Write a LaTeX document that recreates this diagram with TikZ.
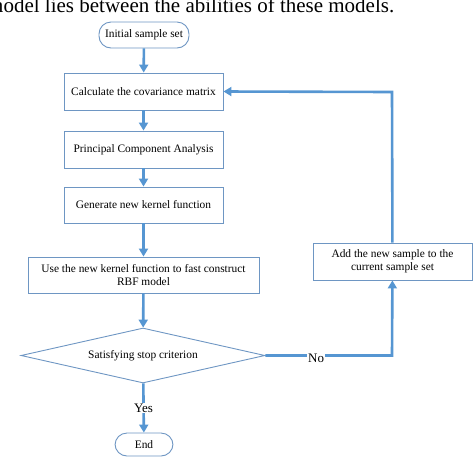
\documentclass[tikz,border=0pt]{standalone}
\usepackage{fontspec}
\setmainfont{Liberation Serif}
\usetikzlibrary{arrows.meta,shapes.geometric}
\definecolor{fblue}{RGB}{86,150,210}
\definecolor{bline}{RGB}{110,150,195}
\tikzset{
  boxfont/.style={font=\fontsize{11.4}{13.5}\selectfont},
  proc/.style={draw=bline, line width=0.9pt, fill=white, minimum height=37pt, align=center, boxfont, inner sep=0pt},
  term/.style={draw=bline, line width=0.9pt, rounded corners=12pt, fill=white, align=center, boxfont, inner sep=0pt},
  dec/.style={draw=bline, line width=0.9pt, diamond, aspect=4.4, inner sep=0pt, minimum width=244pt, minimum height=55pt, boxfont},
  flow/.style={draw=fblue, line width=2.6pt, -{Triangle[length=8pt,width=9pt]}},
  lbl/.style={fill=white, inner sep=1pt, font=\fontsize{13}{15}\selectfont}
}
\begin{document}
\begin{tikzpicture}[x=1pt,y=-1pt]
\useasboundingbox (0,0) rectangle (474,459);
\clip (0,0) rectangle (474,459);
\node[anchor=base west, font=\fontsize{21}{24}\selectfont, inner sep=0pt] (top) at (-13,12.5) {model lies between the abilities of these models.};
\node[term, minimum width=90pt, minimum height=26pt] (init) at (144,35) {Initial sample set};
\node[proc, minimum width=159pt] (cov) at (143.5,91.5) {Calculate the covariance matrix};
\node[proc, minimum width=159pt] (pca) at (143.5,149.5) {Principal Component Analysis};
\node[proc, minimum width=159pt, minimum height=36pt] (gen) at (143.5,205) {Generate new kernel function};
\node[proc, minimum width=231pt, minimum height=36pt] (use) at (143.5,275) {Use the new kernel function to fast construct\\RBF model};
\node[dec] (stop) at (143,355.5) {Satisfying stop criterion};
\node[term, minimum width=58pt, minimum height=23pt] (end) at (144,444.5) {End};
\node[proc, minimum width=159pt, minimum height=37pt] (add) at (392.5,261.5) {Add the new sample to the\\current sample set};
\coordinate (c1) at (392,355.5);
\coordinate (c2) at (392,92);
\draw[flow] (init) -- (cov);
\draw[flow] (cov) -- (pca);
\draw[flow] (pca) -- (gen);
\draw[flow] (gen) -- (use);
\draw[flow] (use) -- (stop);
\draw[flow] (stop) -- node[lbl, pos=0.5] {Yes} (end);
\draw[flow] (stop.east) -- node[lbl, pos=0.4, yshift=-3pt] {No} (c1) -- (add);
\draw[flow] (add) -- (c2) -- (cov.east);
\end{tikzpicture}
\end{document}
